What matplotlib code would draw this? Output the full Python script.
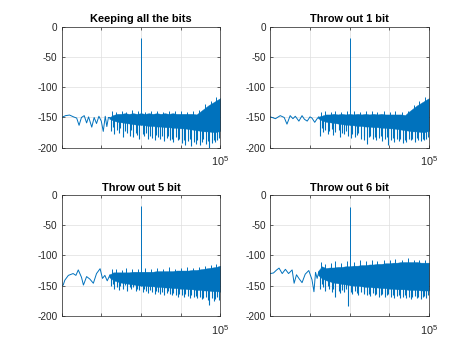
"""Spectra of a 1 kHz tone after dropping low-order bits (2x2 MATLAB-style panels)."""

import numpy as np
import matplotlib

matplotlib.use("Agg")
import matplotlib.pyplot as plt
from matplotlib.ticker import FixedLocator, FixedFormatter, LogLocator, NullFormatter

plt.rcParams["font.family"] = ["Liberation Sans", "DejaVu Sans"]
plt.rcParams["mathtext.fontset"] = "custom"
plt.rcParams["mathtext.rm"] = "Liberation Sans"
plt.rcParams["mathtext.it"] = "Liberation Sans"
plt.rcParams["axes.unicode_minus"] = False

BLUE = "#0072BD"
AX_COLOR = "#262626"

titles = ["Keeping all the bits", "Throw out 1 bit", "Throw out 5 bit", "Throw out 6 bit"]

# tone peak (log10 Hz, dB)
tone_logf = 3.0
tone_db = [-18, -18, -19, -20]

# knots of the dense noise band (log10 Hz), shared by all panels
band_logf = [2.2, 2.3, 2.4, 2.5, 2.6, 2.7, 2.8, 2.9, 3.0, 3.1,
             3.2, 3.3, 3.4, 3.5, 3.6, 3.7, 3.8, 3.9, 4.0, 4.1,
             4.2, 4.3, 4.4, 4.5, 4.6, 4.7, 4.8, 4.9, 5.0]
# positions of the deep notches below the band (log10 Hz)
dip_logf = [2.24, 2.30, 2.33, 2.39, 2.45, 2.48, 2.55, 2.59, 2.64, 2.72,
            2.75, 2.80, 2.87, 2.90, 2.96, 3.04, 3.07, 3.14, 3.19, 3.22,
            3.29, 3.35, 3.37, 3.44, 3.49, 3.52, 3.59, 3.65, 3.67, 3.74,
            3.79, 3.82, 3.89, 3.94, 3.97, 4.04, 4.09, 4.12, 4.19, 4.24,
            4.27, 4.34, 4.39, 4.42, 4.49, 4.54, 4.57, 4.64, 4.69, 4.72,
            4.79, 4.84, 4.87, 4.93, 4.98]
# positions of the small peaks above the band (log10 Hz)
peak_logf = [2.28, 2.37, 2.52, 2.63, 2.78, 2.93, 3.10, 3.26, 3.41, 3.56,
             3.70, 3.86, 4.01, 4.15, 4.31, 4.46, 4.61, 4.76, 4.90]

# ---- panel 1: keeping all the bits
p1_line_logf = [1.00, 1.10, 1.20, 1.30, 1.38, 1.44, 1.50, 1.57, 1.63, 1.68, 1.76, 1.82,
                1.88, 1.94, 2.00, 2.05, 2.10, 2.14, 2.18, 2.22]
p1_line_db = [-150, -147, -146, -149, -151, -163, -150, -147, -159, -149, -166, -150,
              -160, -148, -156, -173, -148, -165, -150, -150]
p1_band_hi = [-150, -146, -144, -144, -143, -144, -143, -144, -143, -144,
              -143, -144, -143, -144, -143, -144, -143, -144, -144, -144,
              -144, -144, -145, -140, -135, -130, -126, -122, -118]
p1_band_lo = [-152, -155, -157, -158, -159, -160, -161, -162, -162, -163,
              -164, -164, -165, -165, -166, -166, -167, -167, -168, -168,
              -169, -170, -171, -172, -173, -173, -174, -174, -172]
p1_dip_db = [-172, -166, -178, -170, -175, -168, -182, -172, -176, -180,
             -171, -183, -176, -179, -185, -178, -181, -175, -186, -180,
             -184, -188, -179, -183, -186, -181, -189, -184, -180, -187,
             -185, -190, -183, -188, -186, -192, -187, -195, -189, -186,
             -197, -190, -193, -188, -195, -191, -186, -193, -189, -200,
             -192, -187, -190, -188, -184]
p1_peak_db = [-140, -141, -139, -141, -138, -140, -141, -139, -140, -141,
              -139, -140, -140, -141, -140, -138, -128, -122, -116]

# ---- panel 2: throw out 1 bit
p2_line_logf = [1.00, 1.13, 1.25, 1.35, 1.42, 1.50, 1.57, 1.63, 1.72, 1.80, 1.86, 1.93,
                2.00, 2.05, 2.12, 2.18, 2.22]
p2_line_db = [-149, -152, -147, -150, -161, -147, -152, -148, -156, -147, -153, -156,
              -149, -151, -158, -152, -149]
p2_band_hi = [-149, -147, -145, -145, -144, -145, -144, -145, -144, -145,
              -144, -145, -144, -145, -144, -145, -144, -145, -145, -145,
              -145, -145, -146, -140, -135, -130, -126, -122, -118]
p2_band_lo = [-151, -155, -157, -158, -159, -160, -161, -162, -162, -163,
              -164, -164, -165, -165, -166, -166, -167, -167, -168, -168,
              -169, -170, -171, -172, -173, -173, -174, -174, -172]
p2_dip_db = [-181, -168, -174, -170, -177, -172, -169, -179, -174, -171,
             -182, -175, -178, -173, -180, -184, -177, -182, -179, -176,
             -185, -181, -187, -194, -183, -180, -186, -182, -188, -184,
             -181, -189, -185, -183, -195, -187, -184, -190, -186, -189,
             -185, -192, -187, -190, -186, -188, -185, -191, -184, -187,
             -189, -185, -188, -186, -182]
p2_peak_db = [-141, -140, -141, -139, -141, -140, -139, -141, -140, -140,
              -141, -139, -141, -140, -141, -139, -129, -123, -117]

# ---- panel 3: throw out 5 bit
p3_line_logf = [1.00, 1.04, 1.08, 1.17, 1.29, 1.36, 1.42, 1.50, 1.55, 1.63, 1.71, 1.80,
                1.88, 1.97, 2.03, 2.09, 2.15, 2.22]
p3_line_db = [-150, -149, -141, -133, -130, -133, -124, -136, -149, -135, -139, -146,
              -130, -122, -138, -133, -142, -132]
p3_band_hi = [-132, -128, -128, -128, -128, -128, -127, -127, -127, -127,
              -127, -127, -126, -126, -126, -126, -126, -125, -125, -125,
              -125, -124, -124, -123, -122, -121, -120, -119, -117]
p3_band_lo = [-136, -141, -143, -145, -146, -147, -148, -149, -150, -150,
              -151, -151, -152, -152, -153, -153, -154, -154, -155, -155,
              -156, -156, -157, -157, -158, -158, -159, -159, -160]
p3_dip_db = [-150, -147, -155, -152, -157, -151, -155, -149, -158, -153,
             -156, -152, -159, -155, -157, -160, -156, -158, -162, -157,
             -160, -163, -158, -161, -164, -160, -165, -162, -159, -164,
             -166, -162, -165, -168, -163, -166, -168, -164, -167, -170,
             -165, -169, -167, -171, -168, -172, -170, -168, -173, -182,
             -171, -176, -172, -169, -174]
p3_peak_db = [-123, -122, -124, -121, -123, -122, -121, -123, -121, -122,
              -120, -122, -121, -120, -121, -119, -118, -116, -115]

# ---- panel 4: throw out 6 bit
p4_line_logf = [1.00, 1.08, 1.16, 1.22, 1.30, 1.38, 1.46, 1.55, 1.60, 1.66, 1.72, 1.80,
                1.88, 1.97, 2.05, 2.10, 2.14, 2.18, 2.22]
p4_line_db = [-130, -129, -124, -121, -130, -123, -130, -124, -146, -132, -138, -145,
              -131, -125, -140, -160, -128, -138, -128]
p4_band_hi = [-126, -118, -121, -120, -120, -119, -119, -118, -118, -117,
              -117, -116, -116, -115, -115, -114, -114, -113, -113, -112,
              -112, -111, -111, -111, -111, -111, -112, -112, -112]
p4_band_lo = [-132, -138, -141, -143, -145, -146, -147, -148, -149, -150,
              -150, -151, -152, -152, -153, -153, -154, -154, -155, -155,
              -156, -156, -156, -157, -157, -157, -158, -158, -158]
p4_dip_db = [-155, -148, -152, -158, -150, -155, -160, -156, -168, -158,
             -162, -157, -160, -155, -183, -160, -163, -158, -162, -165,
             -160, -164, -161, -165, -163, -167, -162, -166, -164, -168,
             -165, -163, -168, -166, -164, -169, -166, -170, -167, -165,
             -170, -168, -166, -171, -168, -172, -169, -167, -170, -168,
             -172, -169, -167, -170, -166]
p4_peak_db = [-111, -115, -113, -110, -112, -109, -111, -108, -110, -108,
              -109, -107, -108, -106, -107, -105, -107, -108, -107]

panels = [
    (p1_line_logf, p1_line_db, p1_band_hi, p1_band_lo, p1_dip_db, p1_peak_db),
    (p2_line_logf, p2_line_db, p2_band_hi, p2_band_lo, p2_dip_db, p2_peak_db),
    (p3_line_logf, p3_line_db, p3_band_hi, p3_band_lo, p3_dip_db, p3_peak_db),
    (p4_line_logf, p4_line_db, p4_band_hi, p4_band_lo, p4_dip_db, p4_peak_db),
]

# MATLAB default subplot(2,2,k) positions
positions = [
    [0.13, 0.5838, 0.3347, 0.3412],
    [0.5703, 0.5838, 0.3347, 0.3412],
    [0.13, 0.11, 0.3347, 0.3412],
    [0.5703, 0.11, 0.3347, 0.3412],
]

fig = plt.figure(figsize=(4.74, 3.55), dpi=100)
band_f = np.asarray(band_logf)
dip_f = np.asarray(dip_logf)
peak_f = np.asarray(peak_logf)

for k, (line_f, line_db, band_hi, band_lo, dip_db, peak_db) in enumerate(panels):
    ax = fig.add_axes(positions[k])

    ax.plot(10 ** np.asarray(line_f), line_db, color=BLUE, lw=0.7)
    ax.fill_between(10 ** band_f, band_lo, band_hi, color=BLUE, lw=0.3, edgecolor=BLUE)
    ax.vlines(10 ** dip_f, dip_db, np.interp(dip_f, band_f, band_lo) + 2,
              color=BLUE, lw=0.8)
    ax.vlines(10 ** peak_f, np.interp(peak_f, band_f, band_hi) - 2, peak_db,
              color=BLUE, lw=0.7)
    ax.vlines(10 ** tone_logf, np.interp(tone_logf, band_f, band_lo), tone_db[k],
              color=BLUE, lw=0.7)

    ax.set_xscale("log")
    ax.set_xlim(1e1, 1e5)
    ax.set_ylim(-200, 0)
    ax.xaxis.set_major_locator(FixedLocator([1e1, 1e2, 1e3, 1e4, 1e5]))
    ax.xaxis.set_major_formatter(FixedFormatter(["", "", "", "", r"$10^5$"]))
    ax.xaxis.set_minor_locator(LogLocator(base=10, subs=np.arange(2, 10)))
    ax.xaxis.set_minor_formatter(NullFormatter())
    ax.set_yticks([-200, -150, -100, -50, 0])

    ax.grid(True, which="major", color="#dedede", lw=0.5)
    ax.set_axisbelow(True)
    ax.tick_params(which="both", direction="in", top=True, right=True,
                   colors=AX_COLOR, labelsize=7.2, pad=3, width=0.5)
    ax.tick_params(axis="x", labelsize=7.8, pad=5)
    ax.tick_params(which="major", length=2.5)
    ax.tick_params(which="minor", length=1.3)
    for s in ax.spines.values():
        s.set_color(AX_COLOR)
        s.set_linewidth(0.5)

    ax.set_title(titles[k], fontsize=7.9, fontweight="bold", color="black", pad=3)

fig.savefig("out.png", dpi=100)
